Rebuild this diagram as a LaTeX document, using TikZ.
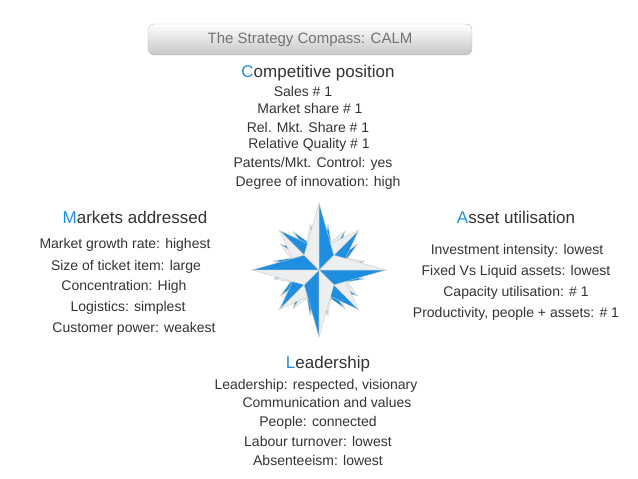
\documentclass[tikz,border=0pt]{standalone}
\usepackage{fontspec}
\setmainfont{Liberation Sans}
\definecolor{cblue}{HTML}{1E8FE0}
\definecolor{ctxt}{HTML}{333333}
\definecolor{clight}{HTML}{ECEEF0}
\begin{document}
\begin{tikzpicture}[x=1pt,y=-1pt,
  body/.style={font=\fontsize{14}{15}\selectfont,text=ctxt,inner sep=0pt},
  head/.style={font=\fontsize{17}{18}\selectfont,text=ctxt,inner sep=0pt}]
\useasboundingbox (0,0) rectangle (638,479);
% title bar
\shade[top color=white,bottom color=gray!45,rounded corners=6pt,draw=gray!50] (148,24) rectangle (472,55);
\node[font=\fontsize{15}{16}\selectfont,text=gray!90!black] (title) at (310,40) {The Strategy Compass: CALM};
% compass
\begin{scope}[shift={(319,270)}]
\foreach \a/\R/\w in {11.25/46/18,33.75/46/18,56.25/46/18,78.75/46/18,101.25/46/18,123.75/46/18,146.25/46/18,168.75/46/18,191.25/46/18,213.75/46/18,236.25/46/18,258.75/46/18,281.25/46/18,303.75/46/18,326.25/46/18,348.75/46/18,
                     45/56/21,135/56/21,225/56/21,315/56/21,
                     0/67/21,90/67/21,180/67/21,270/67/21}{
  \fill[cblue,draw=gray!40,line width=0.4pt] (0,0) -- (\a:\R) -- (\a+45:\w) -- cycle;
  \fill[clight,draw=gray!40,line width=0.4pt] (0,0) -- (\a:\R) -- (\a-45:\w) -- cycle;
}
\end{scope}
% top
\node[head] (ch) at (318,73) {\textcolor{cblue}{C}ompetitive position};
\node[body] (c1) at (303,91) {Sales \# 1};
\node[body] (c2) at (310,108) {Market share \# 1};
\node[body] (c3) at (308,127) {Rel. Mkt. Share \# 1};
\node[body] (c4) at (309,145) {Relative Quality \# 1};
\node[body] (c5) at (313,164) {Patents/Mkt. Control: yes};
\node[body] (c6) at (318,183) {Degree of innovation: high};
% left
\node[head] (mh) at (135,217) {\textcolor{cblue}{M}arkets addressed};
\node[body] (m1) at (125,245) {Market growth rate: highest};
\node[body] (m2) at (126,267) {Size of ticket item: large};
\node[body] (m3) at (124,287) {Concentration: High};
\node[body] (m4) at (128,308) {Logistics: simplest};
\node[body] (m5) at (134,329) {Customer power: weakest};
% right
\node[head] (ah) at (516,217) {\textcolor{cblue}{A}sset utilisation};
\node[body] (a1) at (517,251) {Investment intensity: lowest};
\node[body] (a2) at (516,272) {Fixed Vs Liquid assets: lowest};
\node[body] (a3) at (516,293) {Capacity utilisation: \# 1};
\node[body] (a4) at (516,314) {Productivity, people + assets: \# 1};
% bottom
\node[head] (lh) at (328,364) {\textcolor{cblue}{L}eadership};
\node[body] (l1) at (316,386) {Leadership: respected, visionary};
\node[body] (l2) at (327,402) {Communication and values};
\node[body] (l3) at (318,423) {People: connected};
\node[body] (l4) at (318,441) {Labour turnover: lowest};
\node[body] (l5) at (318,460) {Absenteeism: lowest};
\end{tikzpicture}
\end{document}
